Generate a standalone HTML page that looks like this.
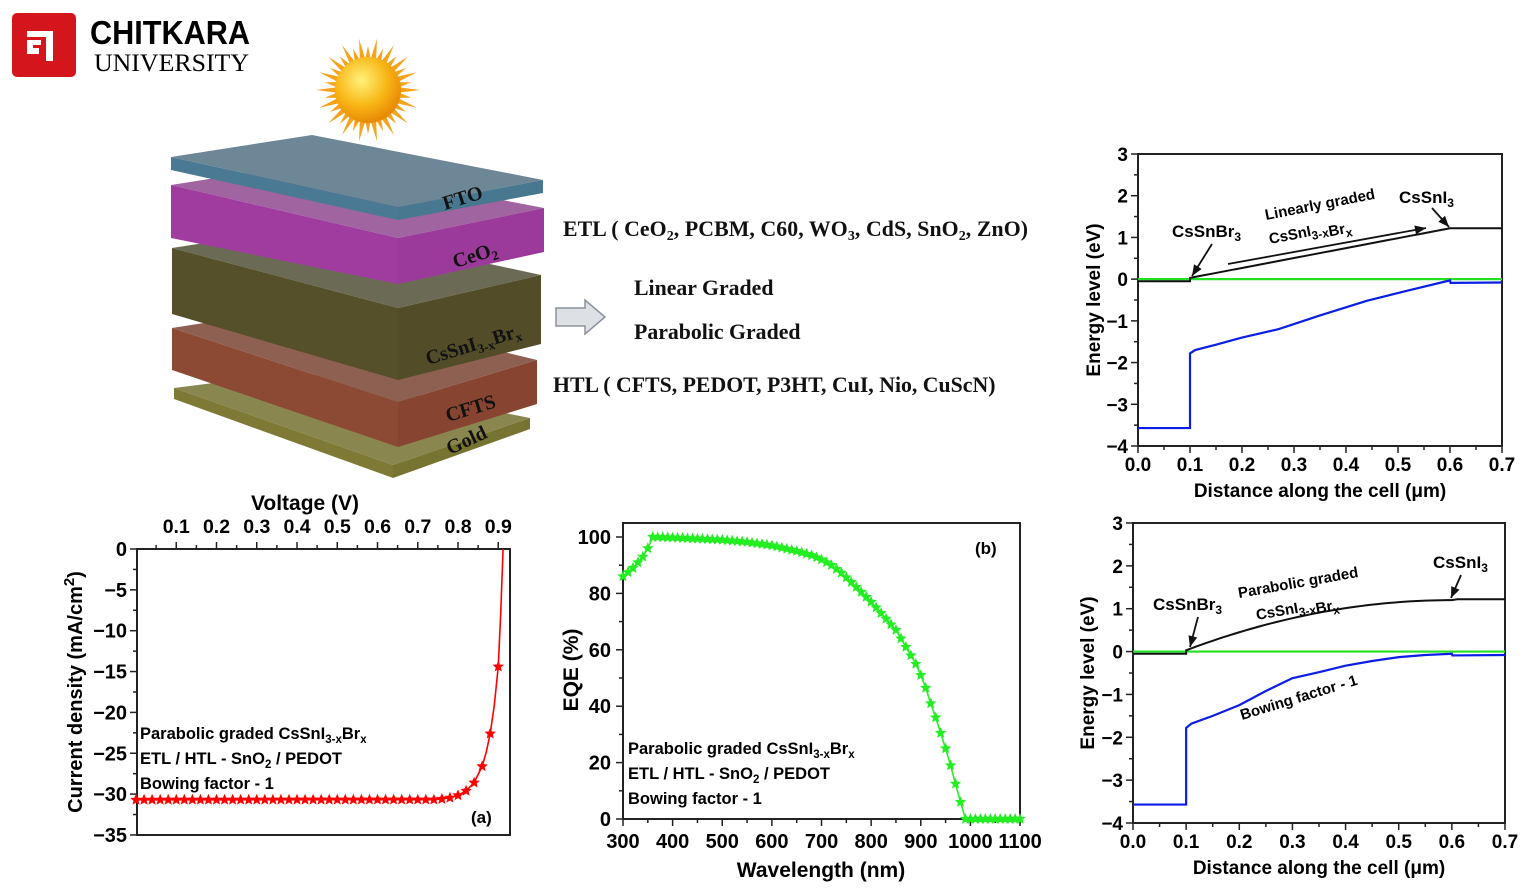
<!DOCTYPE html>
<html><head><meta charset="utf-8"><style>
body{margin:0;width:1536px;height:888px;background:#fff;overflow:hidden}
svg{position:absolute;left:0;top:0}
text{font-family:"Liberation Sans",sans-serif;font-weight:bold}
.s{font-family:"Liberation Serif",serif;font-weight:bold}
</style></head><body>
<svg id="sv" width="1536" height="888" viewBox="0 0 1536 888">
<defs>
<radialGradient id="sun" cx="40%" cy="35%" r="65%"><stop offset="0" stop-color="#fff27a"/><stop offset="0.6" stop-color="#f8b616"/><stop offset="1" stop-color="#e88a06"/></radialGradient>
</defs>
<rect x="12" y="13" width="64" height="64" rx="5" fill="#d4151c"/>
<path d="M27 31h26v30h-7V37H27z M27 40h14v5H33v9h-6z M33 48h6v6h-6z" fill="#fff"/>
<text x="90" y="44" font-size="33" style="font-family:'Liberation Sans Narrow','Liberation Sans',sans-serif" textLength="160" lengthAdjust="spacingAndGlyphs">CHITKARA</text>
<text x="94" y="71" class="s" font-size="25" style="font-weight:normal" textLength="155" lengthAdjust="spacingAndGlyphs">UNIVERSITY</text>
<g id="rays" fill="#f7a21b"></g>
<circle cx="368" cy="90" r="33" fill="url(#sun)"/>
<g>
<polygon points="174,388 300,372 530,418 393,465" fill="#8a8650"/>
<polygon points="174,388 393,465 393,478 174,399" fill="#7e7a36"/>
<polygon points="393,465 530,418 530,429 393,478" fill="#777330"/>
<polygon points="172,328 312,306 537,360 398,402" fill="#8e6052"/>
<polygon points="172,328 398,402 398,447 172,370" fill="#8c4a35"/>
<polygon points="398,402 537,360 537,404 398,447" fill="#874430"/>
<polygon points="172,248 314,226 541,275 398,308" fill="#6b6b55"/>
<polygon points="172,248 398,308 398,380 172,314" fill="#55502a"/>
<polygon points="398,308 541,275 541,344 398,380" fill="#524d28"/>
<polygon points="171,185 310,163 544,208 398,238" fill="#a064a0"/>
<polygon points="171,185 398,238 398,284 171,238" fill="#a03ca0"/>
<polygon points="398,238 544,208 544,252 398,284" fill="#9c3a9c"/>
<polygon points="171,157 312,135 543,180 398,207" fill="#6e8797"/>
<polygon points="171,157 398,207 398,220 171,170" fill="#4a7a93"/>
<polygon points="398,207 543,180 543,193 398,220" fill="#487890"/>
</g>
<g class="s" font-size="20" fill="#111">
<text class="s" transform="translate(445,210) rotate(-17)">FTO</text>
<text class="s" transform="translate(455,268) rotate(-17)">CeO<tspan font-size="13" dy="4">2</tspan></text>
<text class="s" transform="translate(428,365) rotate(-17)">CsSnI<tspan font-size="13" dy="4">3-x</tspan><tspan dy="-4">Br</tspan><tspan font-size="13" dy="4">x</tspan></text>
<text class="s" transform="translate(448,422) rotate(-17)">CFTS</text>
<text class="s" transform="translate(450,455) rotate(-25)">Gold</text>
</g>
<g font-size="21.8" fill="#111">
<text class="s" x="563" y="236" textLength="465">ETL ( CeO<tspan font-size="14" dy="4">2</tspan><tspan dy="-4">, PCBM, C60, WO</tspan><tspan font-size="14" dy="4">3</tspan><tspan dy="-4">, CdS, SnO</tspan><tspan font-size="14" dy="4">2</tspan><tspan dy="-4">, ZnO)</tspan></text>
<text class="s" x="634" y="295">Linear Graded</text>
<text class="s" x="634" y="339">Parabolic Graded</text>
<text class="s" x="553" y="392">HTL ( CFTS, PEDOT, P3HT, CuI, Nio, CuScN)</text>
</g>
<polygon points="556,308 585,308 585,300 605,317 585,334 585,326 556,326" fill="#dde1e6" stroke="#8b949c" stroke-width="1.5"/>
<g id="plots"></g>
</svg>
<script>
const NS="http://www.w3.org/2000/svg",P=document.getElementById('plots');
function el(t,a,par){const e=document.createElementNS(NS,t);for(const k in a)e.setAttribute(k,a[k]);(par||P).appendChild(e);return e;}
function txt(x,y,s,fs,anc,extra){const e=el('text',Object.assign({x:x,y:y,'font-size':fs,'text-anchor':anc||'start'},extra||{}));e.innerHTML=s;return e;}
const R=document.getElementById('rays');
for(let i=0;i<36;i++){const a=i*Math.PI/18,l=(i%2?44:52),w=0.06;
 const p=[[368+30*Math.cos(a-w*1.6),90+30*Math.sin(a-w*1.6)],[368+l*Math.cos(a),90+l*Math.sin(a)],[368+30*Math.cos(a+w*1.6),90+30*Math.sin(a+w*1.6)]];
 el('polygon',{points:p.map(q=>q.join(',')).join(' ')},R);}
function frame(x0,y0,x1,y1){el('rect',{x:x0,y:y0,width:x1-x0,height:y1-y0,fill:'none',stroke:'#222','stroke-width':2});}
function line(pts,col,w){el('polyline',{points:pts.map(p=>p.join(',')).join(' '),fill:'none',stroke:col,'stroke-width':w||2});}
function star(x,y,r,col){let p=[];for(let i=0;i<10;i++){const a=-Math.PI/2+i*Math.PI/5,rr=i%2?r*0.45:r;p.push((x+rr*Math.cos(a)).toFixed(1)+','+(y+rr*Math.sin(a)).toFixed(1));}el('polygon',{points:p.join(' '),fill:col});}
function interp(d,x){for(let i=1;i<d.length;i++)if(x<=d[i][0]){const a=d[i-1],b=d[i];return a[1]+(b[1]-a[1])*(x-a[0])/(b[0]-a[0]);}return d[d.length-1][1];}
const ann=(x,y0)=>{txt(x,y0,'Parabolic graded CsSnI<tspan font-size="11.5" dy="4">3-x</tspan><tspan dy="-4">Br</tspan><tspan font-size="11.5" dy="4">x</tspan>',16.5);
 txt(x,y0+25,'ETL / HTL - SnO<tspan font-size="11.5" dy="4">2</tspan><tspan dy="-4"> / PEDOT</tspan>',16.5);
 txt(x,y0+50,'Bowing factor - 1',16.5);};
{const X=v=>136+v*402.5,Yj=j=>549+(-j)*8.17;
 frame(137,549,510,835);
 for(let v=0.05;v<0.93;v+=0.05){const big=Math.abs(v*10-Math.round(v*10))<0.01;el('line',{x1:X(v),y1:549,x2:X(v),y2:big?542:545,stroke:'#222','stroke-width':1.5});if(big)txt(X(v),533,(Math.round(v*10)/10).toFixed(1),19.5,'middle');}
 for(let j=0;j>=-35;j-=2.5){const big=j%5==0;el('line',{x1:137,y1:Yj(j),x2:big?130:133,y2:Yj(j),stroke:'#222','stroke-width':1.5});if(big)txt(127,Yj(j)+7,j==0?'0':'−'+(-j),20,'end');}
 txt(305,510,'Voltage (V)',21,'middle');
 txt(0,0,'Current density (mA/cm<tspan font-size="15" dy="-8">2</tspan><tspan dy="8">)</tspan>',20,'middle',{transform:'translate(82,692) rotate(-90)'});
 const d=[[0,-30.7],[0.74,-30.68],[0.76,-30.6],[0.78,-30.45],[0.80,-30.15],[0.82,-29.6],[0.84,-28.6],[0.86,-26.6],[0.87,-24.9],[0.88,-22.6],[0.89,-19.2],[0.90,-14.4],[0.906,-8],[0.912,0]];
 let pts=[];for(let v=0;v<=0.912;v+=0.002)pts.push([X(v),Yj(interp(d,v))]);
 pts.push([X(0.912),549]);line(pts,'#f00',1.6);
 for(let v=0;v<=0.901;v+=0.02)star(X(v),Yj(interp(d,v)),6,'#f00');
 ann(140,739);
 txt(471,823,'(a)',17);
}
{const X=l=>623+(l-300)*0.4963,Y=e=>819-e*2.82;
 frame(623,523,1020,819);
 for(let l=300;l<=1100;l+=50){const big=l%100==0;el('line',{x1:X(l),y1:819,x2:X(l),y2:big?826:823,stroke:'#222','stroke-width':1.5});if(big)txt(X(l),848,l,20,'middle');}
 for(let e=0;e<=100;e+=10){const big=e%20==0;el('line',{x1:623,y1:Y(e),x2:big?616:619,y2:Y(e),stroke:'#222','stroke-width':1.5});if(big)txt(611,Y(e)+7,e,20,'end');}
 txt(821,877,'Wavelength (nm)',21,'middle');
 txt(0,0,'EQE (%)',21,'middle',{transform:'translate(578,670) rotate(-90)'});
 const d=[[300,86],[310,87.5],[320,89],[330,91],[340,93],[350,96],[360,100],[400,99.8],[450,99.4],[500,99],[550,98.2],[600,97],[650,95],[680,93.5],[700,92],[720,90],[740,87.3],[760,84],[780,80.5],[800,77],[820,73],[840,69],[850,67],[860,64],[870,61],[880,58],[890,55],[900,51],[910,46.5],[920,41],[930,36],[940,30.5],[950,25],[960,19],[970,12.5],[980,6],[990,0],[1100,0]];
 line(d.map(p=>[X(p[0]),Y(p[1])]),'#2ee82e',1.6);
 for(let l=300;l<=1100;l+=10)star(X(l),Y(interp(d,l)),6,'#22ee22');
 ann(628,754);
 txt(975,554,'(b)',17);
}
function band(x0,x1,y3,ym4,parab,ylab){
 const X=d=>x0+d*(x1-x0)/0.7,u=(ym4-y3)/7,Y=e=>y3+(3-e)*u;
 frame(x0,y3,x1,ym4);
 for(let d=0;d<=0.7001;d+=0.05){const big=Math.round(d*100)%10==0;el('line',{x1:X(d),y1:ym4,x2:X(d),y2:ym4+(big?7:4),stroke:'#222','stroke-width':1.5});if(big)txt(X(d),ym4+25,d.toFixed(1),19,'middle');}
 for(let e=-4;e<=3;e+=0.5){const big=e%1==0;el('line',{x1:x0,y1:Y(e),x2:x0-(big?7:4),y2:Y(e),stroke:'#222','stroke-width':1.5});if(big)txt(x0-10,Y(e)+7,e<0?'−'+(-e):e,19,'end');}
 txt((x0+x1)/2,ym4+51,'Distance along the cell (μm)',19,'middle');
 txt(0,0,'Energy level (eV)',19,'middle',{transform:'translate('+ylab+','+Y(-0.5)+') rotate(-90)'});
 line([[X(0),Y(0)],[X(0.7),Y(0)]],'#22e022',2.2);
 let c=[[X(0),Y(-0.05)],[X(0.1),Y(-0.05)]];
 for(let d=0.1;d<=0.6001;d+=0.01){const t=(d-0.1)/0.5;const e=parab?0.03+1.17*(1-(1-t)*(1-t)):0.03+1.19*t;c.push([X(d),Y(e)]);}
 c.push([X(0.61),Y(1.22)],[X(0.7),Y(1.22)]);line(c,'#111',2);
 const b=parab?[[0.1,-1.78],[0.11,-1.68],[0.15,-1.5],[0.2,-1.25],[0.25,-0.92],[0.3,-0.62],[0.35,-0.48],[0.4,-0.33],[0.45,-0.22],[0.5,-0.13],[0.55,-0.08],[0.6,-0.05]]:
 [[0.1,-1.78],[0.11,-1.7],[0.15,-1.57],[0.2,-1.4],[0.27,-1.2],[0.35,-0.87],[0.44,-0.52],[0.52,-0.27],[0.6,-0.03]];
 let bp=[[X(0),Y(-3.57)],[X(0.1),Y(-3.57)]].concat(b.map(p=>[X(p[0]),Y(p[1])]));
 bp.push([X(0.601),Y(-0.09)],[X(0.7),Y(-0.08)]);line(bp,'#0a1ee6',2.2);
}
function arrow(x1,y1,x2,y2){el('line',{x1,y1,x2,y2,stroke:'#111','stroke-width':1.8});const a=Math.atan2(y2-y1,x2-x1),L=11,w=4.5;
 el('polygon',{points:[[x2,y2],[x2-L*Math.cos(a)+w*Math.sin(a),y2-L*Math.sin(a)-w*Math.cos(a)],[x2-L*Math.cos(a)-w*Math.sin(a),y2-L*Math.sin(a)+w*Math.cos(a)]].map(p=>p.join(',')).join(' '),fill:'#111'});}
const sub=s=>'<tspan font-size="12" dy="4">'+s+'</tspan><tspan dy="-4"></tspan>';
band(1138,1502,154,446,false,1100);
txt(1172,237,'CsSnBr'+sub('3'),17);
arrow(1212,244,1192,276);
txt(0,0,'Linearly graded',15,'start',{transform:'translate(1266,220) rotate(-11)'});
txt(0,0,'CsSnI'+sub('3-x')+'Br'+sub('x'),15,'start',{transform:'translate(1270,244) rotate(-11)'});
arrow(1228,264,1426,228);
txt(1399,203,'CsSnI'+sub('3'),17);
arrow(1432,208,1449,227);
band(1133,1505,523,823,true,1094);
txt(1153,610,'CsSnBr'+sub('3'),17);
arrow(1198,617,1190,647);
txt(0,0,'Parabolic graded',15,'start',{transform:'translate(1239,598) rotate(-10)'});
txt(0,0,'CsSnI'+sub('3-x')+'Br'+sub('x'),15,'start',{transform:'translate(1257,620) rotate(-10)'});
txt(1433,568,'CsSnI'+sub('3'),17);
arrow(1461,575,1451,598);
txt(0,0,'Bowing factor - 1',15,'start',{transform:'translate(1242,720) rotate(-17)'});
</script>
</body></html>
